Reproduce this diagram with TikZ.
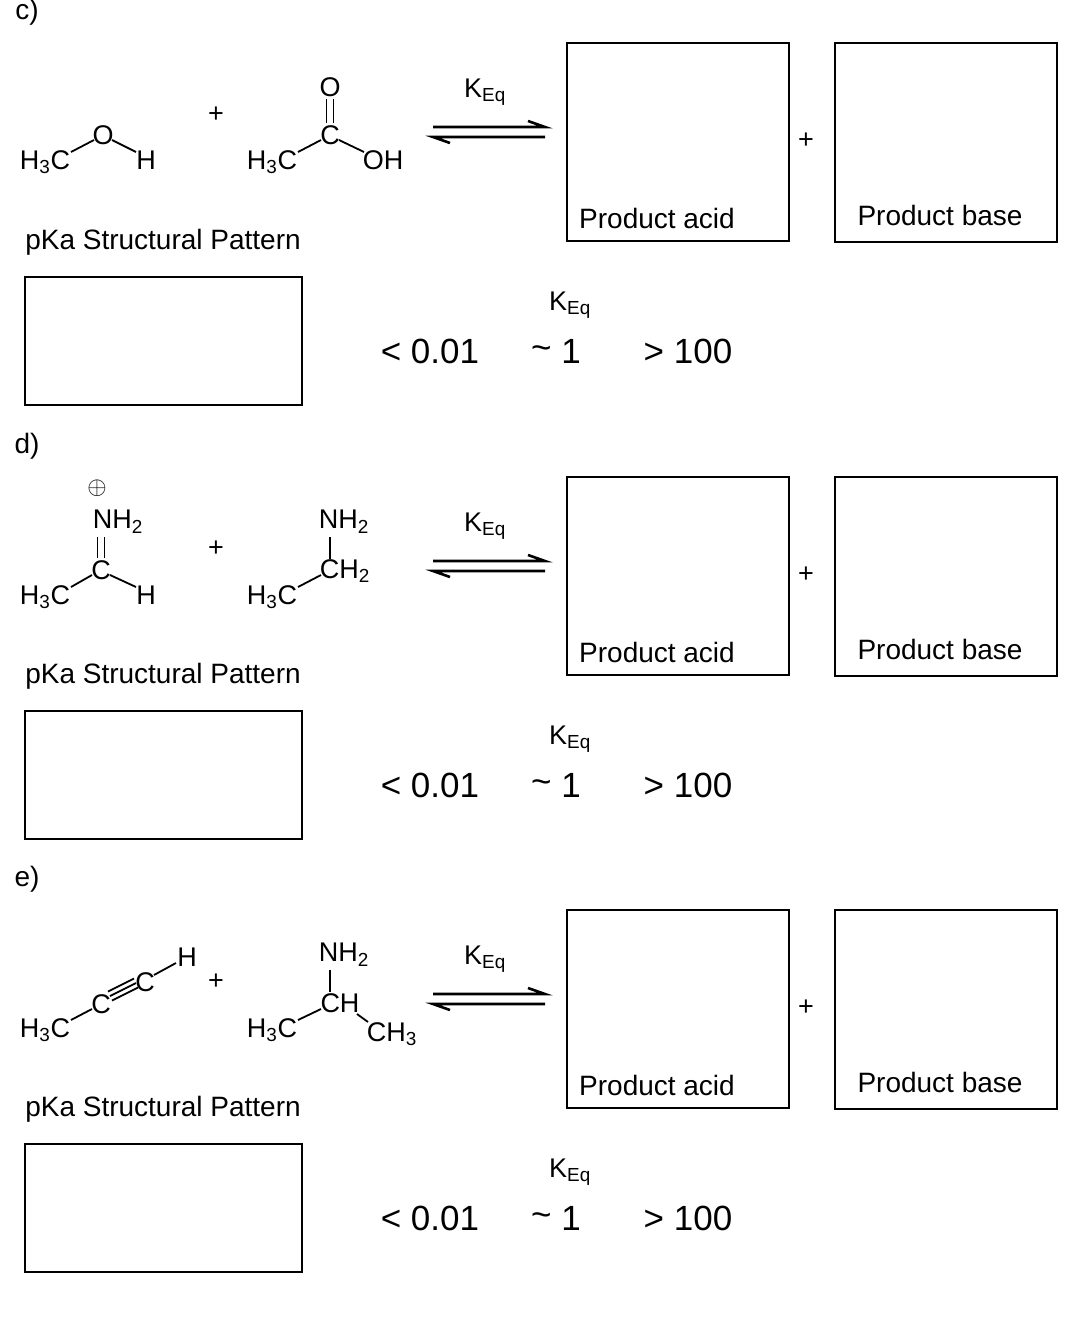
\documentclass[tikz,border=0pt]{standalone}
\usepackage{fontspec}
\setmainfont{Liberation Sans}
\begin{document}
\begin{tikzpicture}[x=1pt,y=-1pt,
  mol/.style={font=\fontsize{27}{29}\selectfont,inner sep=0pt},
  lab/.style={font=\fontsize{28}{30}\selectfont,inner sep=0pt},
  big/.style={font=\fontsize{35}{38}\selectfont,inner sep=0pt},
  abox/.style={draw,line width=2.4pt},
  bond/.style={line width=1.8pt},
  eqarr/.style={line width=2.6pt}]
\useasboundingbox (0,0) rectangle (1090,1318);
\newcommand\rxnframe[2]{%
 \begin{scope}[yshift=-#2]
 \node[lab] (#1lbl) at (27,12) {#1)};
 \node[mol] (#1plus) at (216,115) {+};
 \node[mol] (#1k) at (485,92) {K\textsubscript{Eq}};
 \coordinate (#1a1) at (433,127); \coordinate (#1a2) at (545,127);
 \coordinate (#1b1) at (433,137); \coordinate (#1b2) at (545,137);
 \draw[eqarr] (#1a1) -- (#1a2) -- ++(-17,-6);
 \draw[eqarr] (#1b2) -- (#1b1) -- ++(17,6);
 \node[abox,minimum width=222pt,minimum height=198pt] (#1pa) at (678,142) {};
 \node[lab] (#1pat) at (657,218) {Product acid};
 \node[mol] (#1plus2) at (806,141) {+};
 \node[abox,minimum width=222pt,minimum height=199pt] (#1pb) at (946,142.5) {};
 \node[lab] (#1pbt) at (940,215) {Product base};
 \node[lab] (#1pk) at (163,242) {pKa Structural Pattern};
 \node[abox,minimum width=277pt,minimum height=128pt] (#1sp) at (163.5,341) {};
 \node[mol] (#1k2) at (570,305) {K\textsubscript{Eq}};
 \node[big] (#1v1) at (430,351) {< 0.01};
 \node[big] (#1v2) at (556,351) {\raisebox{0.1em}{\textasciitilde} 1};
 \node[big] (#1v3) at (688,351) {> 100};
 \end{scope}}
\rxnframe{c}{0pt}
\rxnframe{d}{434pt}
\rxnframe{e}{867pt}
% c molecules
\node[mol] (c1) at (45,162) {H\textsubscript{3}C};
\node[mol] (c2) at (103,135) {O};
\node[mol] (c3) at (146,160) {H};
\draw[bond] (71,152) -- (94,140);
\draw[bond] (112,140) -- (136,152);
\node[mol] (c4) at (272,162) {H\textsubscript{3}C};
\node[mol] (c5) at (330,135) {C};
\node[mol] (c6) at (330,87) {O};
\node[mol] (c7) at (383,160) {OH};
\draw[bond] (298,152) -- (321,140);
\draw[bond] (339,140) -- (364,152);
\draw[bond] (326.5,99) -- (326.5,123);
\draw[bond] (333.5,99) -- (333.5,123);
% d molecules
\node[mol] (d0) at (97,488) {$\oplus$};
\node[mol] (d1) at (118,522) {NH\textsubscript{2}};
\node[mol] (d2) at (101,570) {C};
\node[mol] (d3) at (45,597) {H\textsubscript{3}C};
\node[mol] (d4) at (146,595) {H};
\draw[bond] (97.5,537) -- (97.5,558);
\draw[bond] (104.5,537) -- (104.5,558);
\draw[bond] (71,587) -- (92,575);
\draw[bond] (110,575) -- (136,587);
\node[mol] (d5) at (344,522) {NH\textsubscript{2}};
\node[mol] (d6) at (345,571) {CH\textsubscript{2}};
\node[mol] (d7) at (272,597) {H\textsubscript{3}C};
\draw[bond] (330,537) -- (330,559);
\draw[bond] (298,587) -- (321,575);
% e molecules
\node[mol] (e1) at (45,1030) {H\textsubscript{3}C};
\node[mol] (e2) at (101,1004) {C};
\node[mol] (e3) at (145,982) {C};
\node[mol] (e4) at (187,957) {H};
\draw[bond] (71,1020) -- (92,1009);
\draw[bond] (110,996) -- (136,983);
\draw[bond] (108,991.5) -- (134,978.5);
\draw[bond] (112,1000.5) -- (138,987.5);
\draw[bond] (154,975) -- (176,963);
\node[mol] (e5) at (344,955) {NH\textsubscript{2}};
\node[mol] (e6) at (340,1003) {CH};
\node[mol] (e7) at (272,1030) {H\textsubscript{3}C};
\node[mol] (e8) at (392,1034) {CH\textsubscript{3}};
\draw[bond] (330,970) -- (330,992);
\draw[bond] (298,1020) -- (321,1009);
\draw[bond] (357,1014) -- (368,1022);
\end{tikzpicture}
\end{document}
